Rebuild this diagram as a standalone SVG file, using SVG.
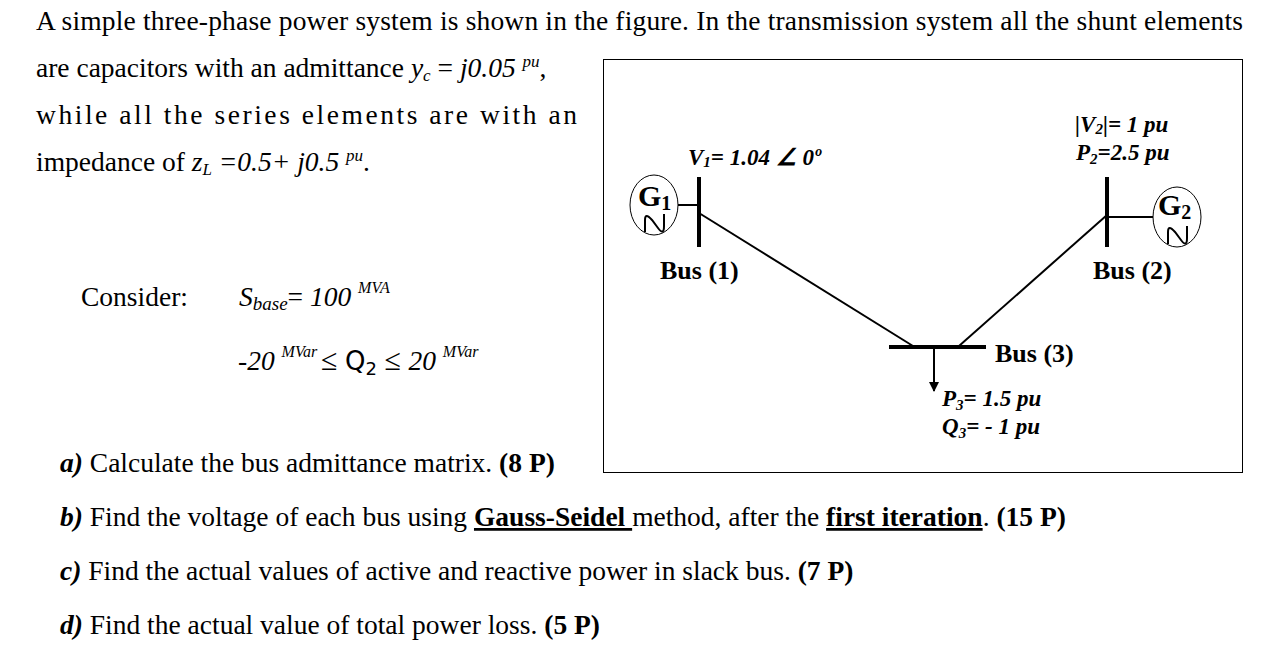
<svg xmlns="http://www.w3.org/2000/svg" width="1280" height="660" viewBox="0 0 1280 660">
<style>
.t{font-family:"Liberation Serif",serif;font-size:27.5px;fill:#000}
.i{font-style:italic}
.b{font-weight:bold}
.d{font-family:"Liberation Serif",serif;font-size:23px;font-weight:bold;font-style:italic}
.bus{font-family:"Liberation Serif",serif;font-size:26px;font-weight:bold}
.g{font-family:"Liberation Serif",serif;font-size:30px;font-weight:bold}
.bar{stroke:#000;stroke-width:4;fill:none}
.ln{stroke:#000;stroke-width:2;fill:none}
.sq{stroke:#000;stroke-width:2;fill:none}
</style>
<defs><marker id="ar" viewBox="0 0 10 10" refX="9" refY="5" markerWidth="5" markerHeight="5" orient="auto"><path d="M0,0L10,5L0,10z"/></marker></defs>
<rect width="1280" height="660" fill="#fff"/>
<text class="t" x="36" y="30" textLength="1207" lengthAdjust="spacing">A simple three-phase power system is shown in the figure. In the transmission system all the shunt elements</text>
<text class="t" x="36" y="77">are capacitors with an admittance <tspan class="i">y</tspan><tspan class="i" font-size="17" dy="4">c</tspan><tspan dy="-4"> = </tspan><tspan class="i">j0.05 </tspan><tspan class="i" font-size="17" dy="-10">pu</tspan><tspan dy="10">,</tspan></text>
<text class="t" x="36" y="124" textLength="541" lengthAdjust="spacing">while all the series elements are with an</text>
<text class="t" x="36" y="171">impedance of <tspan class="i">z</tspan><tspan class="i" font-size="17" dy="4">L</tspan><tspan class="i" dy="-4"> =0.5+ j0.5 </tspan><tspan class="i" font-size="17" dy="-10">pu</tspan><tspan dy="10">.</tspan></text>
<text class="t" x="81" y="306">Consider:</text>
<text class="t i" x="239" y="306">S<tspan font-size="19" dy="4">base</tspan><tspan dy="-4" font-style="normal">= </tspan>100 <tspan font-size="16" dy="-13">MVA</tspan></text>
<text class="t" x="238" y="370"><tspan class="i">-20 </tspan><tspan class="i" font-size="16" dy="-13">MVar </tspan><tspan dy="13" font-size="30">≤ </tspan><tspan font-family="DejaVu Sans" font-size="26">Q</tspan><tspan font-family="DejaVu Sans" font-size="18" dy="5">2</tspan><tspan dy="-5" font-size="30">  ≤ </tspan><tspan class="i">20 </tspan><tspan class="i" font-size="16" dy="-13">MVar</tspan></text>
<text class="t" x="60" y="472"><tspan class="b i">a)</tspan> Calculate the bus admittance matrix. <tspan class="b">(8 P)</tspan></text>
<text class="t" x="60" y="526"><tspan class="b i">b)</tspan> Find the voltage of each bus using <tspan class="b" text-decoration="underline">Gauss-Seidel </tspan>method, after the <tspan class="b" text-decoration="underline">first iteration</tspan>.  <tspan class="b">(15 P)</tspan></text>
<text class="t" x="60" y="580"><tspan class="b i">c)</tspan> Find the actual values of active and reactive power in slack bus. <tspan class="b">(7 P)</tspan></text>
<text class="t" x="60" y="634"><tspan class="b i">d)</tspan> Find the actual value of total power loss. <tspan class="b">(5 P)</tspan></text>
<rect x="603.5" y="59.5" width="639" height="413" fill="none" stroke="#000" stroke-width="1"/>
<g id="connectors">
<line class="ln" x1="678" y1="205" x2="699" y2="205" stroke-width="1"/>
<line class="ln" x1="1107" y1="217" x2="1154" y2="217" stroke-width="1"/>
<line class="ln" x1="699" y1="213" x2="913" y2="346"/>
<line class="ln" x1="1107" y1="215" x2="959" y2="346"/>
<line class="ln" x1="934" y1="347" x2="934" y2="391" marker-end="url(#ar)"/>
</g>
<g id="G1"><ellipse cx="654" cy="205" rx="24" ry="30" fill="#fff" stroke="#000"/><text class="g" x="638" y="206">G<tspan font-size="20" dy="4">1</tspan></text><path class="sq" d="M645,232 L645,220 Q645,212 652,220 L658,228 Q664,236 664,226 L664,214"/></g>
<g id="G2"><ellipse cx="1177" cy="217" rx="24" ry="30" fill="#fff" stroke="#000"/><text class="g" x="1158" y="215">G<tspan font-size="20" dy="4">2</tspan></text><path class="sq" d="M1168,244 L1168,232 Q1168,224 1175,232 L1181,240 Q1187,248 1187,238 L1187,226"/></g>
<g id="bus1"><line class="bar" x1="699" y1="177" x2="699" y2="247"/><text class="bus" x="660" y="279">Bus (1)</text><text class="d" x="688" y="165">V<tspan font-size="15" dy="2">1</tspan><tspan dy="-2">= 1.04 ∠ 0º</tspan></text></g>
<g id="bus2"><line class="bar" x1="1107" y1="177" x2="1107" y2="247"/><text class="bus" x="1093" y="279">Bus (2)</text><text class="d" x="1075" y="132">|V<tspan font-size="15" dy="2">2</tspan><tspan dy="-2">|= 1 pu</tspan></text><text class="d" x="1076" y="160">P<tspan font-size="15" dy="4">2</tspan><tspan dy="-4">=2.5 pu</tspan></text></g>
<g id="bus3"><line class="bar" x1="889" y1="347" x2="986" y2="347"/><text class="bus" x="995" y="362">Bus (3)</text><text class="d" x="942" y="406">P<tspan font-size="15" dy="4">3</tspan><tspan dy="-4">= 1.5 pu</tspan></text><text class="d" x="942" y="434">Q<tspan font-size="15" dy="4">3</tspan><tspan dy="-4">= - 1 pu</tspan></text></g>
</svg>
